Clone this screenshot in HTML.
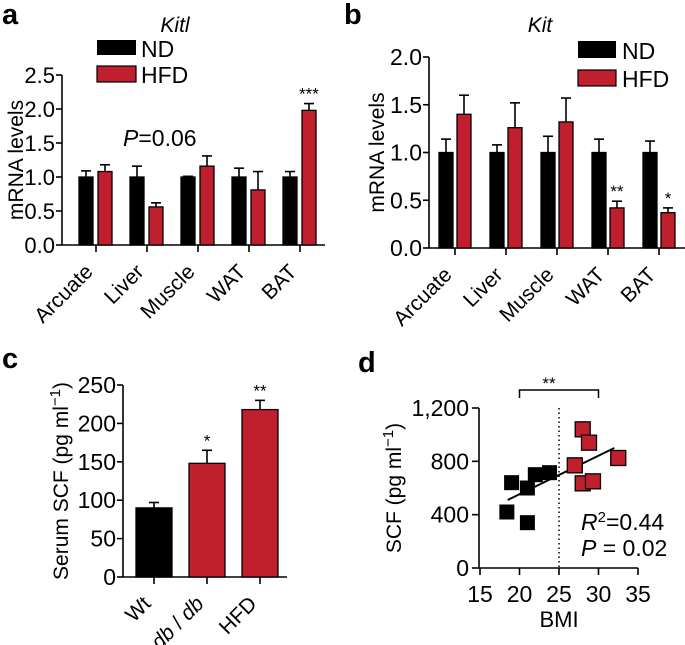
<!DOCTYPE html>
<html><head><meta charset="utf-8"><style>
body{margin:0;background:#fff;}
svg{display:block;font-family:"Liberation Sans",Arial,sans-serif;}
</style></head><body>
<svg id="fig" width="685" height="645" viewBox="0 0 685 645" xmlns="http://www.w3.org/2000/svg"></svg>
<script>
// ---- data ----
const tissues = ["Arcuate","Liver","Muscle","WAT","BAT"];
const kitlND = [1.0,1.0,1.0,1.0,1.0];
const kitlNDErr = [0.09,0.16,0.01,0.13,0.08];
const kitlHFD = [1.08,0.56,1.16,0.81,1.98];
const kitlHFDErr = [0.10,0.06,0.15,0.27,0.10];
const kitlSig = ["","","","","***"];
const kitlTicks = [0,0.5,1.0,1.5,2.0,2.5];
const kitND = [1.0,1.0,1.0,1.0,1.0];
const kitNDErr = [0.14,0.08,0.17,0.14,0.12];
const kitHFD = [1.40,1.26,1.32,0.42,0.37];
const kitHFDErr = [0.20,0.26,0.25,0.07,0.05];
const kitSig = ["","","","**","*"];
const kitTicks = [0,0.5,1.0,1.5,2.0];
const groupsC = ["Wt","db / db","HFD"];
const scfC = [90,148,218];
const scfCErr = [7,17,12];
const sigC = ["","*","**"];
const ticksC = [0,50,100,150,200,250];
const bmiND = [18.4,19.0,21.0,21.0,22.0,23.8];
const scfND = [420,640,600,340,700,715];
const bmiHFD = [27.0,28.0,28.8,32.5,28.0,29.3];
const scfHFD = [770,1040,940,825,635,650];
const fitX = [18.5,32.0];
const fitY = [510,900];
const ticksDx = [15,20,25,30,35];
const ticksDy = [0,400,800,1200];

const NS="http://www.w3.org/2000/svg";
const svg=document.getElementById('fig');
const RED="#c0202e";
function mk(tag,attrs,parent,text){const e=document.createElementNS(NS,tag);for(const k in attrs)e.setAttribute(k,attrs[k]);if(text!==undefined)e.textContent=text;(parent||svg).appendChild(e);return e;}
function line(x1,y1,x2,y2,extra){return mk('line',Object.assign({x1,y1,x2,y2,stroke:'#000','stroke-width':1.6},extra||{}));}

function barPanel(o){
  const y=v=>o.y0-(v-o.vmin)/(o.vmax-o.vmin)*(o.y0-o.y1);
  const ya=line(o.ax,o.y1,o.ax,o.y0);
  const xa=line(o.ax,o.y0,o.axEnd,o.y0);
  o.ticks.forEach(t=>{line(o.ax-6,y(t),o.ax,y(t));
    const tl=mk('text',{x:o.ax-7,y:y(t)+8,'text-anchor':'end','font-size':o.tfs||23},svg,o.fmt(t));
    });
  o.cats.forEach((c,i)=>{
    const tx=o.x0+i*o.step;
    line(tx,o.y0,tx,o.y0+7);
    const lx=tx+o.lblDx, ly=o.y0+o.lblDy;
    const cl=mk('text',{x:lx,y:ly,'text-anchor':'end','font-size':21,transform:`rotate(-45 ${lx} ${ly})`},svg);
    if(c==="db / db"){mk('tspan',{'font-style':'italic'},cl,'db');mk('tspan',{},cl,' / ');mk('tspan',{'font-style':'italic'},cl,'db');}
    else cl.textContent=c;
    
    o.series.forEach((s,k)=>{
      const bx=tx+s.off, v=s.vals[i], e=s.err[i];
      const col=s.colors?s.colors[i]:s.color;
      line(bx+o.bw/2,y(v),bx+o.bw/2,y(v+e));
      line(bx+o.bw/2-5,y(v+e),bx+o.bw/2+5,y(v+e));
      const r=mk('rect',{x:bx,y:y(v),width:o.bw,height:o.y0-y(v),fill:col,stroke:'#000','stroke-width':1.3});
      
      
      if(s.sig&&s.sig[i]){const st=mk('text',{x:bx+o.bw/2,y:y(v+e)-4,'text-anchor':'middle','font-size':17},svg,s.sig[i]);
        }
    });
  });
  const cy=(o.y0+o.y1)/2;
  const yl=mk('text',{x:o.ylx,y:cy,'text-anchor':'middle','font-size':21,transform:`rotate(-90 ${o.ylx} ${cy})`},svg);
  if(o.ytitle==='scf'){yl.textContent='Serum SCF (pg ml';mk('tspan',{'baseline-shift':'super','font-size':15},yl,'−1');mk('tspan',{},yl,')');}
  else yl.textContent=o.ytitle;
  
  return y;
}
const f1=t=>t.toFixed(1);
barPanel({ax:62,axEnd:325,y0:245,y1:75,vmin:0,vmax:2.5,ticks:kitlTicks,fmt:f1,tfs:22,cats:tissues,x0:96,step:51,bw:14,lblDx:-2,lblDy:28,ylx:23,ytitle:'mRNA levels',
  series:[{key:'nd',vals:kitlND,err:kitlNDErr,color:'#000',off:-17},{key:'hfd',vals:kitlHFD,err:kitlHFDErr,color:RED,off:2,sig:kitlSig}]});
barPanel({ax:429,axEnd:685,y0:248,y1:57,vmin:0,vmax:2.0,ticks:kitTicks,fmt:f1,cats:tissues,x0:455,step:51,bw:14,lblDx:-2,lblDy:28,ylx:384,ytitle:'mRNA levels',
  series:[{key:'nd',vals:kitND,err:kitNDErr,color:'#000',off:-16},{key:'hfd',vals:kitHFD,err:kitHFDErr,color:RED,off:2,sig:kitSig}]});
barPanel({ax:123,axEnd:287,y0:577,y1:385,vmin:0,vmax:250,ticks:ticksC,fmt:t=>String(t),cats:groupsC,x0:154,step:53,bw:36,lblDx:-2,lblDy:28,ylx:68,ytitle:'scf',
  series:[{key:'scf',vals:scfC,err:scfCErr,colors:['#000',RED,RED],off:-18,sig:sigC}]});

// panel d scatter
const dx=v=>480+(v-15)*(638-480)/20, dy=v=>568-v*(568-408)/1200;
const ya=line(479,408,479,568);
const xa=line(479,568,638,568);
ticksDx.forEach(t=>{line(dx(t),568,dx(t),575);const l=mk('text',{x:dx(t),y:602,'text-anchor':'middle','font-size':23},svg,String(t));});
ticksDy.forEach(t=>{line(472,dy(t),479,dy(t));const l=mk('text',{x:469,y:dy(t)+8,'text-anchor':'end','font-size':23},svg,t.toLocaleString('en-US'));});
const dl=line(dx(25),408,dx(25),568,{'stroke-dasharray':'1.5 3','stroke-width':1.5});
const fl=line(dx(fitX[0]),dy(fitY[0]),dx(fitX[1]),dy(fitY[1]),{'stroke-width':2});
bmiND.forEach((b,i)=>{const r=mk('rect',{x:dx(b)-7.5,y:dy(scfND[i])-7.5,width:15,height:15,fill:'#000'});});
bmiHFD.forEach((b,i)=>{const r=mk('rect',{x:dx(b)-7.5,y:dy(scfHFD[i])-7.5,width:15,height:15,fill:RED,stroke:'#000','stroke-width':1.3});});
const br=mk('path',{d:`M${dx(20)} 398 V390 H${dx(30)} V398`,fill:'none',stroke:'#000','stroke-width':1.5});
</script>
<script>
const s2=document.getElementById('fig');
s2.insertAdjacentHTML('beforeend',`
<text x="2" y="24" font-size="29" font-weight="bold">a</text>
<text x="344" y="24" font-size="29" font-weight="bold">b</text>
<text x="2" y="368" font-size="29" font-weight="bold">c</text>
<text x="358" y="372" font-size="29" font-weight="bold">d</text>
<text x="175" y="32" font-size="21" font-style="italic" text-anchor="middle">Kitl</text>
<text x="540" y="32" font-size="21" font-style="italic" text-anchor="middle">Kit</text>
<g>
<rect x="97" y="40" width="39" height="15" fill="#000"/>
<text x="141" y="57" font-size="23">ND</text>
<rect x="97" y="66" width="39" height="16" fill="#c0202e" stroke="#000" stroke-width="1.2"/>
<text x="141" y="83" font-size="23">HFD</text>
</g>
<g>
<rect x="578" y="41" width="38" height="17" fill="#000"/>
<text x="622" y="59" font-size="23">ND</text>
<rect x="578" y="70" width="38" height="16" fill="#c0202e" stroke="#000" stroke-width="1.2"/>
<text x="622" y="87" font-size="23">HFD</text>
</g>
<text x="123" y="146" font-size="23"><tspan font-style="italic">P</tspan>=0.06</text>
<text x="549" y="389" font-size="17" text-anchor="middle">**</text>
<text x="581" y="530" font-size="23"><tspan font-style="italic">R</tspan><tspan baseline-shift="super" font-size="15">2</tspan>=0.44</text>
<text x="581" y="556" font-size="23"><tspan font-style="italic">P</tspan> = 0.02</text>
<text x="559" y="627" font-size="22" text-anchor="middle">BMI</text>
<text x="401" y="488" font-size="21" text-anchor="middle" transform="rotate(-90 401 488)">SCF (pg ml<tspan baseline-shift="super" font-size="15">−1</tspan>)</text>
`);
</script>
</body></html>
